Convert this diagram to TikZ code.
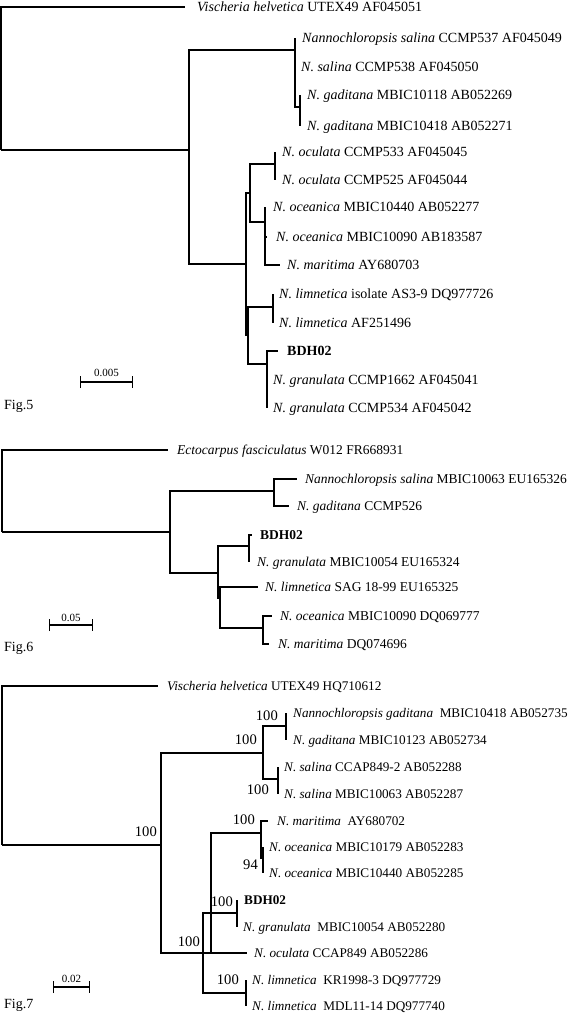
\documentclass[tikz,border=0pt]{standalone}
\usepackage{fontspec}
\setmainfont{Liberation Serif}
\usetikzlibrary{positioning, arrows.meta}
\tikzset{
  br/.style={line width=1.2pt},
  lf5/.style={inner sep=0pt, font=\fontsize{14}{16}\selectfont, text height=10pt, text depth=1pt},
  lf6/.style={inner sep=0pt, font=\fontsize{13.5}{16}\selectfont, text height=10pt, text depth=1pt},
  lf7/.style={inner sep=0pt, font=\fontsize{13.2}{16}\selectfont, text height=10pt, text depth=1pt},
  bs/.style={inner sep=0pt, font=\fontsize{14.6}{16}\selectfont, text depth=0pt},
  sc/.style={inner sep=0pt, font=\fontsize{11}{12}\selectfont},
  sbar/.style={line width=1.2pt, {Bar[width=12pt]}-{Bar[width=12pt]}},
  figlab/.style={inner sep=0pt, anchor=west, font=\fontsize{14}{16}\selectfont, text height=10pt, text depth=1pt},
}
\begin{document}
\begin{tikzpicture}[x=1pt, y=-1pt]
  \useasboundingbox (0,0) rectangle (568,1015);
  % Fig.5
  \coordinate (aR) at (1,150);   \coordinate (aVt) at (185,7);
  \coordinate (aI) at (189,150); \coordinate (aS) at (295,50);
  \coordinate (aG) at (300,107); \coordinate (aB) at (246,264);
  \coordinate (aC) at (250,193); \coordinate (aD) at (275,164);
  \coordinate (aE) at (265,222); \coordinate (aF) at (248,335);
  \coordinate (aL) at (273,307); \coordinate (aH) at (267,364);
  \coordinate (a1t) at (295,38);  \coordinate (a2t) at (295,67);
  \coordinate (a3t) at (300,95);  \coordinate (a4t) at (300,126);
  \coordinate (a5t) at (275,152); \coordinate (a6t) at (275,180);
  \coordinate (a7t) at (265,207); \coordinate (a8t) at (267,237);
  \coordinate (a9t) at (280,265); \coordinate (a10t) at (273,294);
  \coordinate (a11t) at (273,323); \coordinate (a12t) at (278,351);
  \coordinate (a13t) at (267,380); \coordinate (a14t) at (267,408);
  \draw[br] (aR) |- (aVt); \draw[br] (aR) |- (aI);
  \draw[br] (aI) |- (aS); \draw[br] (aI) |- (aB);
  \draw[br] (aS) |- (a1t); \draw[br] (aS) |- (a2t); \draw[br] (aS) |- (aG);
  \draw[br] (aG) |- (a3t); \draw[br] (aG) |- (a4t);
  \draw[br] (aB) |- (aC); \draw[br] (aB) |- (aF);
  \draw[br] (aC) |- (aD); \draw[br] (aC) |- (aE);
  \draw[br] (aD) |- (a5t); \draw[br] (aD) |- (a6t);
  \draw[br] (aE) |- (a7t); \draw[br] (aE) |- (a8t); \draw[br] (aE) |- (a9t);
  \draw[br] (aF) |- (aL); \draw[br] (aF) |- (aH);
  \draw[br] (aL) |- (a10t); \draw[br] (aL) |- (a11t);
  \draw[br] (aH) |- (a12t); \draw[br] (aH) |- (a13t); \draw[br] (aH) |- (a14t);
  \node[lf5, right=12pt of aVt] (aV) {\textit{Vischeria helvetica} UTEX49 AF045051};
  \node[lf5, right=7pt of a1t] (a1) {\textit{Nannochloropsis salina} CCMP537 AF045049};
  \node[lf5, right=6pt of a2t] (a2) {\textit{N. salina} CCMP538 AF045050};
  \node[lf5, right=7pt of a3t] (a3) {\textit{N. gaditana} MBIC10118 AB052269};
  \node[lf5, right=7pt of a4t] (a4) {\textit{N. gaditana} MBIC10418 AB052271};
  \node[lf5, right=7pt of a5t] (a5) {\textit{N. oculata} CCMP533 AF045045};
  \node[lf5, right=7pt of a6t] (a6) {\textit{N. oculata} CCMP525 AF045044};
  \node[lf5, right=8pt of a7t] (a7) {\textit{N. oceanica} MBIC10440 AB052277};
  \node[lf5, right=9pt of a8t] (a8) {\textit{N. oceanica} MBIC10090 AB183587};
  \node[lf5, right=7pt of a9t] (a9) {\textit{N. maritima} AY680703};
  \node[lf5, right=6pt of a10t] (a10) {\textit{N. limnetica} isolate AS3-9 DQ977726};
  \node[lf5, right=6pt of a11t] (a11) {\textit{N. limnetica} AF251496};
  \node[lf5, right=9pt of a12t] (a12) {\textbf{BDH02}};
  \node[lf5, right=6pt of a13t] (a13) {\textit{N. granulata} CCMP1662 AF045041};
  \node[lf5, right=6pt of a14t] (a14) {\textit{N. granulata} CCMP534 AF045042};
  \coordinate (aBar1) at (80,382); \coordinate (aBar2) at (133,382); \coordinate (aBarM) at (106.5,382);
  \draw[sbar] (aBar1) -- (aBar2);
  \node[sc, above=5pt of aBarM] (aBarL) {0.005};
  \node[figlab] (aFig) at (4,405) {Fig.5};
  % Fig.6
  \coordinate (bR) at (2,532);   \coordinate (bEt) at (168,450);
  \coordinate (bI) at (170,532); \coordinate (bJ) at (274,491);
  \coordinate (bK) at (218,573); \coordinate (bL) at (249,546);
  \coordinate (bK2) at (220,598); \coordinate (bM) at (263,628);
  \coordinate (b1t) at (297,479); \coordinate (b2t) at (289,506);
  \coordinate (b3t) at (252,535); \coordinate (b4t) at (249,562);
  \coordinate (b5t) at (258,587); \coordinate (b6t) at (272,616);
  \coordinate (b7t) at (269,644);
  \draw[br] (bR) |- (bEt); \draw[br] (bR) |- (bI);
  \draw[br] (bI) |- (bJ); \draw[br] (bI) |- (bK);
  \draw[br] (bJ) |- (b1t); \draw[br] (bJ) |- (b2t);
  \draw[br] (bK) |- (bL); \draw[br] (bK) |- (bK2);
  \draw[br] (bL) |- (b3t); \draw[br] (bL) |- (b4t);
  \draw[br] (bK2) |- (b5t); \draw[br] (bK2) |- (bM);
  \draw[br] (bM) |- (b6t); \draw[br] (bM) |- (b7t);
  \node[lf6, right=9pt of bEt] (bE) {\textit{Ectocarpus fasciculatus} W012 FR668931};
  \node[lf6, right=8pt of b1t] (b1) {\textit{Nannochloropsis salina} MBIC10063 EU165326};
  \node[lf6, right=8pt of b2t] (b2) {\textit{N. gaditana} CCMP526};
  \node[lf6, right=8pt of b3t] (b3) {\textbf{BDH02}};
  \node[lf6, right=8pt of b4t] (b4) {\textit{N. granulata} MBIC10054 EU165324};
  \node[lf6, right=7pt of b5t] (b5) {\textit{N. limnetica} SAG 18-99 EU165325};
  \node[lf6, right=8pt of b6t] (b6) {\textit{N. oceanica} MBIC10090 DQ069777};
  \node[lf6, right=9pt of b7t] (b7) {\textit{N. maritima} DQ074696};
  \coordinate (bBar1) at (49,625); \coordinate (bBar2) at (93,625); \coordinate (bBarM) at (71,625);
  \draw[sbar] (bBar1) -- (bBar2);
  \node[sc, above=3pt of bBarM] (bBarL) {0.05};
  \node[figlab] (bFig) at (4,647) {Fig.6};
  % Fig.7
  \coordinate (cR) at (2,845);   \coordinate (cVt) at (158,686);
  \coordinate (cN) at (161,845); \coordinate (cO) at (263,753);
  \coordinate (cP) at (286,726); \coordinate (cQ) at (278,779);
  \coordinate (cX) at (203,953); \coordinate (cT) at (237,913);
  \coordinate (cS) at (211,953); \coordinate (cU) at (246,993);
  \coordinate (cV) at (261,833); \coordinate (cW) at (263,858);
  \coordinate (c1t) at (286,713); \coordinate (c2t) at (286,740);
  \coordinate (c3t) at (278,767); \coordinate (c4t) at (278,794);
  \coordinate (c5t) at (268,821); \coordinate (c6t) at (263,847);
  \coordinate (c7t) at (263,873); \coordinate (c8t) at (237,900);
  \coordinate (c9t) at (237,927); \coordinate (c10t) at (247,953);
  \coordinate (c11t) at (246,980); \coordinate (c12t) at (246,1006);
  \draw[br] (cR) |- (cVt); \draw[br] (cR) |- (cN);
  \draw[br] (cN) |- (cO); \draw[br] (cN) |- (cX);
  \draw[br] (cO) |- (cP); \draw[br] (cO) |- (cQ);
  \draw[br] (cP) |- (c1t); \draw[br] (cP) |- (c2t);
  \draw[br] (cQ) |- (c3t); \draw[br] (cQ) |- (c4t);
  \draw[br] (cX) |- (cT); \draw[br] (cX) |- (cS); \draw[br] (cX) |- (cU);
  \draw[br] (cS) |- (cV); \draw[br] (cS) |- (c10t);
  \draw[br] (cV) |- (c5t); \draw[br] (cV) |- (cW);
  \draw[br] (cW) |- (c6t); \draw[br] (cW) |- (c7t);
  \draw[br] (cT) |- (c8t); \draw[br] (cT) |- (c9t);
  \draw[br] (cU) |- (c11t); \draw[br] (cU) |- (c12t);
  \node[lf7, right=9pt of cVt] (cVl) {\textit{Vischeria helvetica} UTEX49 HQ710612};
  \node[lf7, right=7pt of c1t] (c1) {\textit{Nannochloropsis gaditana}\ \ MBIC10418 AB052735};
  \node[lf7, right=7pt of c2t] (c2) {\textit{N. gaditana} MBIC10123 AB052734};
  \node[lf7, right=6pt of c3t] (c3) {\textit{N. salina} CCAP849-2 AB052288};
  \node[lf7, right=6pt of c4t] (c4) {\textit{N. salina} MBIC10063 AB052287};
  \node[lf7, right=9pt of c5t] (c5) {\textit{N. maritima}\ \ AY680702};
  \node[lf7, right=6pt of c6t] (c6) {\textit{N. oceanica} MBIC10179 AB052283};
  \node[lf7, right=6pt of c7t] (c7) {\textit{N. oceanica} MBIC10440 AB052285};
  \node[lf7, right=7pt of c8t] (c8) {\textbf{BDH02}};
  \node[lf7, right=6pt of c9t] (c9) {\textit{N. granulata}\ \ MBIC10054 AB052280};
  \node[lf7, right=7pt of c10t] (c10) {\textit{N. oculata} CCAP849 AB052286};
  \node[lf7, right=6pt of c11t] (c11) {\textit{N. limnetica}\ \ KR1998-3 DQ977729};
  \node[lf7, right=6pt of c12t] (c12) {\textit{N. limnetica}\ \ MDL11-14 DQ977740};
  \node[bs, above left=8pt and 4pt of cN] (bsN) {100};
  \node[bs, above left=8pt and 6pt of cO] (bsO) {100};
  \node[bs, above left=5pt and 8pt of cP] (bsP) {100};
  \node[bs, below left=6pt and 9pt of cQ] (bsQ) {100};
  \node[bs, above left=6pt and 3pt of cX] (bsX) {100};
  \node[bs, above left=8pt and 6pt of cV] (bsV) {100};
  \node[bs, below left=2pt and 5pt of cW] (bsW) {94};
  \node[bs, above left=6pt and 4pt of cT] (bsT) {100};
  \node[bs, above left=8pt and 7pt of cU] (bsU) {100};
  \coordinate (cBar1) at (53,987); \coordinate (cBar2) at (90,987); \coordinate (cBarM) at (71.5,987);
  \draw[sbar] (cBar1) -- (cBar2);
  \node[sc, above=4pt of cBarM] (cBarL) {0.02};
  \node[figlab] (cFig) at (4,1004) {Fig.7};
\end{tikzpicture}
\end{document}
